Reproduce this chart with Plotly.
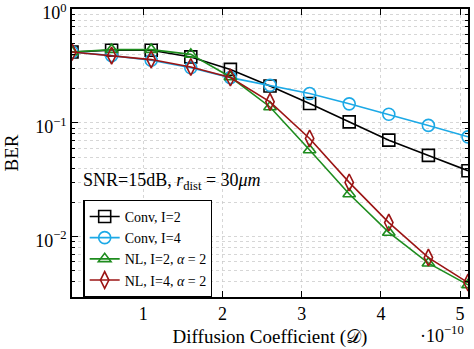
import plotly.graph_objects as go

# Diffusion coefficient (in units of 1e-10)
diff_coef = [0.1, 0.6, 1.1, 1.6, 2.1, 2.6, 3.1, 3.6, 4.1, 4.6, 5.1]

# BER curves
ber_conv_i2 = [0.42, 0.435, 0.435, 0.38, 0.295, 0.211, 0.148, 0.102, 0.0705, 0.0518, 0.038]
ber_conv_i4 = [0.42, 0.39, 0.355, 0.305, 0.25, 0.214, 0.181, 0.147, 0.119, 0.095, 0.0754]
ber_nl_i2 = [0.42, 0.44, 0.44, 0.4, 0.253, 0.138, 0.0577, 0.0237, 0.0109, 0.00585, 0.00377]
ber_nl_i4 = [0.42, 0.39, 0.36, 0.31, 0.25, 0.153, 0.073, 0.030, 0.0133, 0.00655, 0.00395]

series_names = ["Conv, I=2", "Conv, I=4",
                "NL, I=2, <i>α</i> = 2", "NL, I=4, <i>α</i> = 2"]
series_values = [ber_conv_i2, ber_conv_i4, ber_nl_i2, ber_nl_i4]
series_colors = ["#000000", "#1CA9E6", "#1E8C1E", "#9B1414"]
series_symbols = ["square-open", "circle-open", "triangle-up-open", "diamond-tall-open"]
series_sizes = [12, 12, 11, 12]

x_tick_vals = [1, 2, 3, 4, 5]
y_tick_vals = [1, 0.1, 0.01]
y_tick_text = ["10<sup>0</sup>", "10<sup>−1</sup>", "10<sup>−2</sup>"]
y_minor_vals = [m * d for d in (0.001, 0.01, 0.1) for m in range(2, 10)]

FONT = "Liberation Serif"

fig = go.Figure()
for name, vals, col, sym, sz in zip(series_names, series_values, series_colors,
                                    series_symbols, series_sizes):
    fig.add_trace(go.Scatter(
        x=diff_coef, y=vals, name=name, mode="lines+markers",
        line=dict(color=col, width=1.6),
        marker=dict(symbol=sym, size=sz, color=col, line=dict(width=1.6, color=col)),
    ))

grid_col = "rgba(200,200,200,0.75)"

fig.update_layout(
    width=474, height=349,
    margin=dict(l=72, r=6, t=9, b=52),
    paper_bgcolor="white", plot_bgcolor="white",
    font=dict(family=FONT, size=16, color="black"),
    showlegend=True,
    legend=dict(
        x=0.029, y=0.338, xanchor="left", yanchor="top",
        bgcolor="white", bordercolor="black", borderwidth=1.2,
        font=dict(family=FONT, size=14),
        tracegroupgap=0, itemwidth=30,
    ),
    xaxis=dict(
        range=[0.1, 5.1], tickvals=x_tick_vals, automargin=False,
        ticks="inside", ticklen=6, tickcolor="black", mirror="ticks",
        showline=True, linecolor="black", linewidth=1.5,
        showgrid=True, gridcolor=grid_col, griddash="dot", gridwidth=1,
        zeroline=False,
        tickfont=dict(family=FONT, size=18),
        title=dict(text="Diffusion Coefficient (𝒟)", font=dict(family=FONT, size=19),
                   standoff=6),
    ),
    yaxis=dict(
        type="log", range=[-2.53, 0.0008], automargin=False,
        tickvals=y_tick_vals, ticktext=y_tick_text,
        ticklabeloverflow="allow", ticklabelshift=4,
        ticks="inside", ticklen=6, tickcolor="black", mirror="ticks",
        showline=True, linecolor="black", linewidth=1.5,
        showgrid=True, gridcolor=grid_col, griddash="dot", gridwidth=1,
        zeroline=False,
        tickfont=dict(family=FONT, size=18),
        minor=dict(tickvals=y_minor_vals, ticks="inside", ticklen=3, tickcolor="black",
                   showgrid=True, gridcolor=grid_col, griddash="dot", gridwidth=1),
        title=dict(text="BER", font=dict(family=FONT, size=19), standoff=12),
    ),
)

fig.add_annotation(
    xref="paper", yref="paper", x=0.022, y=0.4,
    xanchor="left", yanchor="middle", showarrow=False,
    text="SNR=15dB, <i>r</i><sub>dist</sub> = 30<i>μm</i>",
    font=dict(family=FONT, size=18),
)
fig.add_annotation(
    xref="paper", yref="paper", x=0.995, y=-0.085,
    xanchor="right", yanchor="top", showarrow=False,
    text="·10<sup>−10</sup>",
    font=dict(family=FONT, size=18),
)

fig.write_html("out.html")
